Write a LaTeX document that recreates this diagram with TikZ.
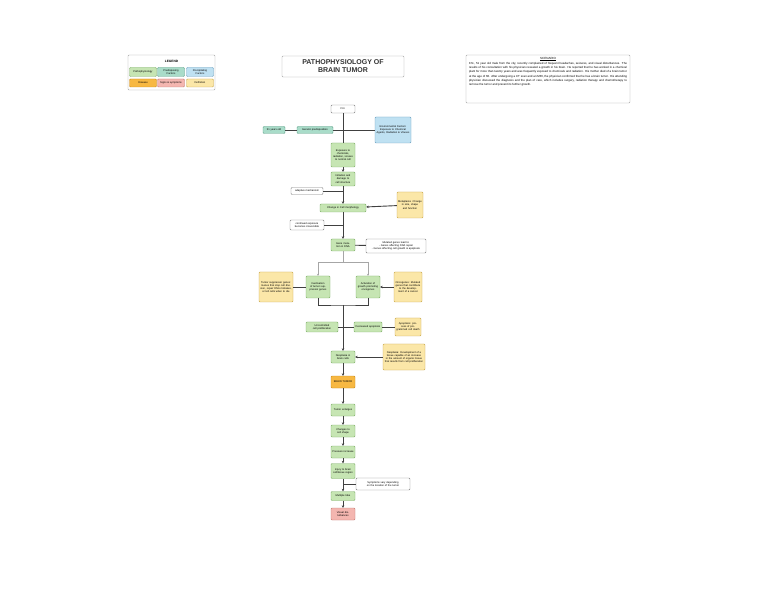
\documentclass[tikz,border=0pt]{standalone}
\usepackage{fontspec}
\setmainfont{Liberation Sans}
\usetikzlibrary{arrows.meta}
\definecolor{gfill}{HTML}{C6E5B3}\definecolor{gdraw}{HTML}{7FB069}
\definecolor{tfill}{HTML}{A9DCC9}\definecolor{tdraw}{HTML}{5FA08A}
\definecolor{bfill}{HTML}{BFE1F2}\definecolor{bdraw}{HTML}{6A9FBF}
\definecolor{yfill}{HTML}{FBE7A8}\definecolor{ydraw}{HTML}{C9A74A}
\definecolor{ofill}{HTML}{F7B842}\definecolor{odraw}{HTML}{C98A1A}
\definecolor{pfill}{HTML}{F4B6B0}\definecolor{pdraw}{HTML}{C47A72}
\tikzset{
 x=1pt,y=-1pt,
 base/.style={rounded corners=1pt,align=center,inner sep=1pt,font=\fontsize{2.6}{3.1}\selectfont,line width=0.4pt},
 gbox/.style={base,fill=gfill,draw=gdraw,text width=22pt,minimum height=14pt},
 tbox/.style={base,fill=tfill,draw=tdraw},
 bbox/.style={base,fill=bfill,draw=bdraw},
 ybox/.style={base,fill=yfill,draw=ydraw},
 obox/.style={base,fill=ofill,draw=odraw,text width=22pt,minimum height=12pt},
 pbox/.style={base,fill=pfill,draw=pdraw,text width=22pt,minimum height=12pt},
 wbox/.style={base,fill=white,draw=gray},
 ln/.style={line width=0.9pt,draw=black!75},
 lna/.style={ln,-{Stealth[length=2.5pt,width=2.5pt]}},
 lg/.style={line width=0.5pt,draw=black!35,-{Stealth[length=2pt,width=2pt]}},
}
\begin{document}
\begin{tikzpicture}
\useasboundingbox[fill=white] (0,0) rectangle (768,593);
% legend
\node[draw=gray!70,rounded corners=1pt,minimum width=87pt,minimum height=35pt] (leg) at (171.5,72.5) {};
\node[font=\fontsize{3.2}{3.6}\selectfont\bfseries] (legt) at (171.5,61) {LEGEND};
\node[base,fill=gfill,draw=gdraw,minimum width=27pt,minimum height=9pt] (l1) at (143,72) {Pathophysiology};
\node[base,fill=tfill,draw=tdraw,minimum width=27pt,minimum height=9pt] (l2) at (171,72) {Predisposing\\Factors};
\node[base,fill=bfill,draw=bdraw,minimum width=27pt,minimum height=9pt] (l3) at (200,72) {Precipitating\\Factors};
\node[base,fill=ofill,draw=odraw,minimum width=27pt,minimum height=8pt] (l4) at (143,83) {Disease};
\node[base,fill=pfill,draw=pdraw,minimum width=27pt,minimum height=8pt] (l5) at (171,83) {Signs \& symptoms};
\node[base,fill=yfill,draw=ydraw,minimum width=27pt,minimum height=8pt] (l6) at (200,83) {Definition};
% title
\node[draw=gray!70,rounded corners=1pt,minimum width=122pt,minimum height=21pt,align=center,font=\fontsize{7}{8}\selectfont\bfseries,text=black!80] (title) at (343,66.5) {PATHOPHYSIOLOGY OF\\BRAIN TUMOR};
% scenario
\node[draw=gray!70,rounded corners=1pt,minimum width=164pt,minimum height=48pt] (scen) at (548,79) {};
\node[font=\fontsize{3}{3.5}\selectfont] (scent) at (548,59) {\underline{SCENARIO}};
\node[text width=158pt,align=justify,inner sep=0pt,anchor=north,font=\fontsize{2.9}{4.3}\selectfont] (scenp) at (548,62) {F.N., 51 year old male from the city, recently complained of frequent headaches, seizures, and visual disturbances. The results of his consultation with his physician revealed a growth in his brain. He reported that he has worked in a chemical plant for more than twenty years and was frequently exposed to chemicals and radiation. His mother died of a brain tumor at the age of 60. After undergoing a CT scan and an MRI, the physician confirmed that he has a brain tumor. His attending physician discussed the diagnosis and the plan of care, which includes surgery, radiation therapy and chemotherapy to remove the tumor and prevent its further growth.};
% main flow
\node[wbox,minimum width=24pt,minimum height=8pt] (fn) at (343,109) {F.N.};
\node[tbox,minimum width=22pt,minimum height=7pt] (age) at (274,130) {51 years old};
\node[tbox,minimum width=36pt,minimum height=7pt] (gen) at (315,130) {Genetic predisposition};
\node[bbox,text width=34pt,minimum height=26pt] (env) at (393,130) {Environmental Factors: Exposure to Chemical Agents, Radiation \& Viruses};
\node[gbox,minimum height=24pt] (exp) at (343,155) {Exposure to chemicals, radiation, viruses to normal cell};
\node[gbox] (init) at (343,179) {Initiation and damage to cell structure};
\node[wbox,minimum width=32pt,minimum height=7pt] (adap) at (307,191) {adaptive mechanism};
\node[gbox,text width=44pt,minimum height=8pt] (morph) at (343,208) {Change in Cell morphology};
\node[ybox,text width=24pt,minimum height=26pt] (meta) at (410,205) {Metaplasia: Change in size, shape and function};
\node[wbox,text width=32pt,minimum height=10pt] (cont) at (307,225) {continued exposure becomes irreversible};
\node[gbox,minimum height=12pt] (mut) at (343,245) {Gene mutation in DNA};
\node[wbox,text width=58pt,minimum height=14pt] (mutd) at (396,246) {Mutated genes lead to:\\- Genes affecting DNA repair\\- Genes affecting cell growth \& apoptosis};
\node[gbox,minimum height=22pt] (inact) at (318,287) {Inactivation of tumor suppressor genes};
\node[gbox,minimum height=22pt] (act) at (368,287) {Activation of growth promoting oncogenes};
\node[ybox,text width=32pt,minimum height=30pt] (tsg) at (276,287) {Tumor suppressor genes:\\Genes that stop cell division, repair DNA mistakes, or tell cells when to die};
\node[ybox,text width=26pt,minimum height=30pt] (onc) at (408,287) {Oncogenes: Mutated genes that contribute to the development of a cancer};
\node[gbox,text width=30pt,minimum height=10pt] (unc) at (322,327) {Uncontrolled cell proliferation};
\node[gbox,text width=26pt,minimum height=10pt] (dec) at (368,327) {Decreased apoptosis};
\node[ybox,text width=24pt,minimum height=18pt] (apo) at (408,327) {Apoptosis: process of programmed cell death};
\node[gbox,minimum height=12pt] (neo) at (343,357) {Neoplasia in brain cells};
\node[ybox,text width=40pt,minimum height=26pt] (neod) at (404,357) {Neoplasia: Development of a tissue capable of an increase in the amount of organic tissue that results from cell proliferation};
\node[obox] (bt) at (343,382) {BRAIN TUMOR};
\node[gbox,minimum height=12pt] (enl) at (343,410) {Tumor enlarges};
\node[gbox,minimum height=12pt] (chg) at (343,431) {Changes to cell shape};
\node[gbox,minimum height=12pt] (pres) at (343,452) {Pressure increase};
\node[gbox,minimum height=15pt] (inj) at (343,471) {Injury to brain cell/tissue region};
\node[wbox,text width=52pt,minimum height=12pt] (symp) at (383,484) {Symptoms vary depending on the location of the tumor};
\node[gbox,minimum height=9pt] (mult) at (343,496) {Multiple lobe};
\node[pbox] (vis) at (343,514) {Visual disturbances};
% connectors
\draw[ln] (fn) -- (exp);
\draw[ln] (age) -- (gen); \draw[ln] (gen) -- (env);
\draw[lna] (exp) -- (init);
\draw[lna] (init) -- (morph);
\draw[ln] (adap.east) -- (adap.east -| morph);
\draw[lna] (meta) -- (morph);
\draw[lna] (morph) -- (mut);
\draw[ln] (cont.east) -- (cont.east -| morph);
\draw[ln] (mutd) -- (mut);
\coordinate (sp) at (343,262);
\draw[line width=0.5pt,black!35] (mut) -- (sp);
\draw[lg] (sp) -| (inact); \draw[lg] (sp) -| (act);
\draw[ln] (tsg) -- (inact); \draw[lna] (onc) -- (act);
\coordinate (jn) at (343,305);
\draw[ln] (inact) |- (jn) -| (act);
\draw[ln] (unc) -- (dec);
\draw[ln] (apo) -- (dec);
\draw[lna] (jn) -- (neo);
\draw[lna] (neod) -- (neo);
\draw[lna] (neo) -- (bt);
\draw[lna] (bt) -- (enl);
\draw[lna] (enl) -- (chg);
\draw[lna] (chg) -- (pres);
\draw[lna] (pres) -- (inj);
\draw[lna] (inj) -- (mult);
\draw[ln] (symp.west) -- (symp.west -| inj);
\draw[lna] (mult) -- (vis);
\end{tikzpicture}
\end{document}
